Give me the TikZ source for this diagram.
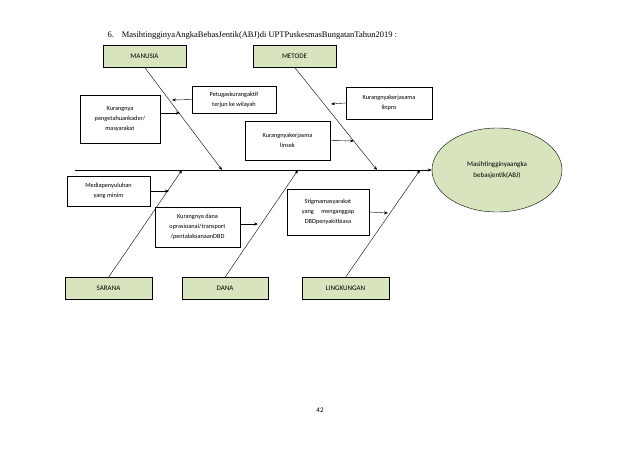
\documentclass[tikz,border=0pt]{standalone}
\usepackage{fontspec}
\setmainfont{Carlito}
\newfontfamily\titlefont{Liberation Serif}
\usetikzlibrary{arrows.meta,shapes.geometric}
\definecolor{boxgreen}{RGB}{215,228,189}
\tikzset{
  cat/.style={draw, fill=boxgreen, minimum width=83pt, minimum height=22pt, inner sep=0pt, font=\fontsize{7}{8}\selectfont},
  cause/.style={draw, align=center, inner sep=0pt, font=\fontsize{6.3}{10}\selectfont},
  arr/.style={-{Stealth[length=4pt,width=3pt]}}
}
\begin{document}
\begin{tikzpicture}[x=1pt, y=-1pt]
  \useasboundingbox (0,0) rectangle (638,451);

  \node[anchor=west, font=\titlefont\fontsize{8.5}{10}\selectfont] (title) at (104,35) {6.\hspace{8pt}MasihtingginyaAngkaBebasJentik(ABJ)di UPTPuskesmasBungatanTahun2019 :};

  \node[cat] (manusia) at (144.5,56) {MANUSIA};
  \node[cat] (metode) at (294.5,56) {METODE};
  \node[cat, minimum width=87pt] (sarana) at (108.5,288.5) {SARANA};
  \node[cat, minimum width=86pt] (dana) at (225,288.5) {DANA};
  \node[cat, minimum width=87pt] (lingkungan) at (345.5,288.5) {LINGKUNGAN};

  \node[draw, ellipse, fill=boxgreen, minimum width=130pt, minimum height=84pt, inner sep=0pt, align=center, font=\fontsize{7}{11}\selectfont] (abj) at (497,170) {Masihtingginyaangka\\bebasjentik(ABJ)};

  \coordinate (tail) at (75,170);
  \coordinate (jm) at (222,170);
  \coordinate (jt) at (377,170);
  \coordinate (js) at (182,170);
  \coordinate (jd) at (298,170);
  \coordinate (jl) at (420,170);

  \draw[arr] (tail) -- (abj.west);
  \draw[arr] (manusia.south) -- (jm);
  \draw[arr] (metode.south) -- (jt);
  \draw[arr] (sarana.north) -- (js);
  \draw[arr] (dana.north) -- (jd);
  \draw[arr] (lingkungan.north) -- (jl);

  \node[cause, minimum width=84pt, minimum height=27pt] (petugas) at (234,99.5) {Petugaskurangaktif\\terjun ke wilayah};
  \node[cause, minimum width=80pt, minimum height=48pt] (pengetahuan) at (120,119) {Kurangnya\\pengetahuankader/\\masyarakat};
  \node[cause, minimum width=86pt, minimum height=32pt] (linpro) at (389,103) {Kurangnyakerjasama\\linpro};
  \node[cause, minimum width=85pt, minimum height=39pt] (linsek) at (287.5,140.5) {Kurangnyakerjasma\\linsek};
  \node[cause, minimum width=83pt, minimum height=30pt] (media) at (108.5,191) {Mediapenyuluhan\\yang minim};
  \node[cause, minimum width=85pt, minimum height=40pt] (biaya) at (197.5,227) {Kurangnya dana\\oprasioanal/transport\\/pentalaksanaanDBD};
  \node[cause, minimum width=82pt, minimum height=46pt] (stigma) at (328,212) {Stigmamasyarakat\\yang\hspace{6pt} menganggap\\DBDpenyakitbiasa};

  \coordinate (a1) at (172,100);
  \coordinate (a2) at (180,113);
  \coordinate (a3) at (331,104);
  \coordinate (a4) at (354,141);
  \coordinate (a5) at (169,191);
  \coordinate (a6) at (258,224);
  \coordinate (a7) at (388,213);

  \draw[arr] (petugas.west) -- (a1);
  \draw[arr] (pengetahuan.east |- a2) -- (a2);
  \draw[arr] (linpro.west) -- (a3);
  \draw[arr] (linsek.east) -- (a4);
  \draw[arr] (media.east) -- (a5);
  \draw[arr] (biaya.east |- a6) -- (a6);
  \draw[arr] (stigma.east) -- (a7);

  \node[font=\fontsize{7}{8}\selectfont] (page) at (320,410) {42};
\end{tikzpicture}
\end{document}
